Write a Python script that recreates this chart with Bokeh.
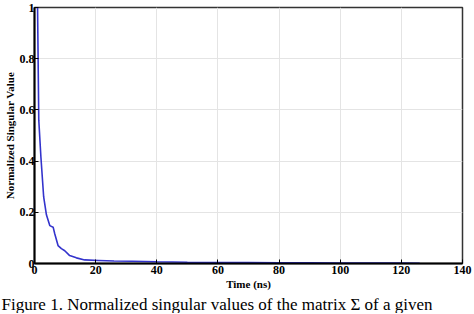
from bokeh.plotting import figure
from bokeh.models import Range1d, Title, CustomJSTickFormatter, FixedTicker
from bokeh.embed import file_html
from bokeh.resources import INLINE

# Data
time_ns = [1, 1.4, 2.1, 3.0, 3.9, 5.0, 6.1, 6.6, 7.7, 8.8, 9.9, 11.5, 13.7, 16.4, 21, 26, 32,
           40, 50, 60, 70, 80, 90, 100, 110, 120, 126]
sing_val = [1.0, 0.56, 0.415, 0.26, 0.19, 0.148, 0.142, 0.117, 0.07, 0.058, 0.05, 0.031, 0.022,
            0.014, 0.012, 0.010, 0.009, 0.007, 0.005, 0.004, 0.0035, 0.003, 0.0025, 0.002,
            0.0018, 0.0015, 0.0012]
x_ticks = [0, 20, 40, 60, 80, 100, 120, 140]
y_ticks = [0, 0.2, 0.4, 0.6, 0.8, 1.0]
caption = "Figure 1. Normalized singular values of the matrix \u03a3 of a given"

serif = "Liberation Serif"

p = figure(width=474, height=314, output_backend="svg", toolbar_location=None,
           x_range=Range1d(0, 140), y_range=Range1d(0, 1),
           min_border_left=0, min_border_right=13, min_border_top=7, min_border_bottom=0)
p.frame_width = 428
p.frame_height = 256

p.line(time_ns, sing_val, line_color="#3333cc", line_width=1.6)

p.xaxis.ticker = FixedTicker(ticks=x_ticks)
p.yaxis.ticker = FixedTicker(ticks=y_ticks)
p.yaxis.formatter = CustomJSTickFormatter(code="return String(Math.round(tick*10)/10);")

for ax in (p.xaxis[0], p.yaxis[0]):
    ax.major_label_text_font = serif
    ax.major_label_text_font_style = "bold"
    ax.major_label_text_font_size = "12px"
    ax.major_label_text_color = "black"
    ax.axis_label_text_font = serif
    ax.axis_label_text_font_style = "bold"
    ax.axis_label_text_font_size = "11px"
    ax.axis_label_text_color = "black"
    ax.axis_line_color = "black"
    ax.axis_line_width = 2
    ax.major_tick_in = 4
    ax.major_tick_out = 0
    ax.minor_tick_line_color = None
    ax.major_tick_line_color = "black"

p.xaxis.major_label_standoff = 2
p.yaxis.major_label_standoff = 0
p.xaxis.axis_label = "Time (ns)"
p.yaxis.axis_label = "Normalized Singular Value"
p.xaxis.axis_label_standoff = 1
p.yaxis.axis_label_standoff = 1

p.xgrid.grid_line_color = "#e4e4e4"
p.ygrid.grid_line_color = "#e4e4e4"
p.outline_line_color = "#333333"
p.outline_line_width = 1.5
p.background_fill_color = "white"
p.border_fill_color = "white"

cap = Title(text=caption, align="left", text_font=serif, text_font_style="normal",
            text_font_size="17px", text_color="black", offset=-33, standoff=0)
p.add_layout(cap, "below")

open("out.html", "w").write(file_html(p, INLINE))
